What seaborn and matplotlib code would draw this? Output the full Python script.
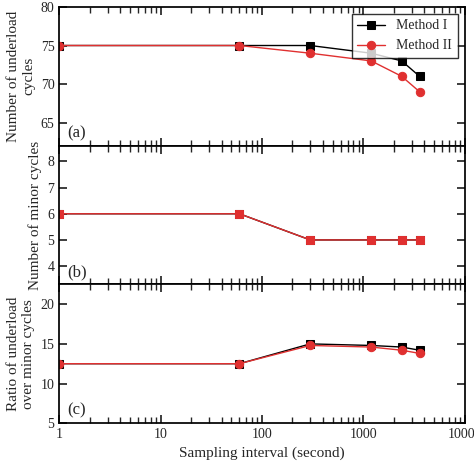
import matplotlib
matplotlib.use("Agg")
import matplotlib.pyplot as plt
import matplotlib.ticker as mticker
import seaborn as sns

sns.set_theme(style="ticks")
plt.rcParams['font.family'] = ['Liberation Serif', 'DejaVu Serif']

x = [1, 60, 300, 1200, 2400, 3600]
a_m1 = [75, 75, 75, 74, 73, 71]
a_m2 = [75, 75, 74, 73, 71, 69]
b_m1 = [6, 6, 5, 5, 5, 5]
b_m2 = [6, 6, 5, 5, 5, 5]
c_m1 = [12.5, 12.5, 15.0, 14.8, 14.6, 14.2]
c_m2 = [12.5, 12.5, 14.8, 14.6, 14.2, 13.8]

fig, axes = plt.subplots(3, 1, figsize=(4.74, 4.65), dpi=100, sharex=True)
fig.subplots_adjust(left=0.125, right=0.98, top=0.985, bottom=0.09, hspace=0)

black = "#000000"
red = "#e03030"
panels = [
    (a_m1, a_m2, "Number of underload\ncycles", (62, 80), [65, 70, 75, 80], "(a)", "o"),
    (b_m1, b_m2, "Number of minor cycles", (3.3, 8.6), [4, 5, 6, 7, 8], "(b)", "s"),
    (c_m1, c_m2, "Ratio of underload\nover minor cycles", (5, 22.5), [5, 10, 15, 20], "(c)", "o"),
]
for ax, (m1, m2, lab, ylim, yt, tag, mk2) in zip(axes, panels):
    sns.lineplot(x=x, y=m1, ax=ax, color=black, marker="s", markersize=6,
                 markeredgecolor=black, label="Method I", linewidth=1)
    sns.lineplot(x=x, y=m2, ax=ax, color=red, marker=mk2, markersize=6,
                 markeredgecolor=red, label="Method II", linewidth=1)
    ax.set_xscale("log")
    ax.set_xlim(1, 10000)
    ax.set_ylim(*ylim)
    ax.set_yticks(yt)
    ax.set_ylabel(lab, fontsize=11)
    ax.text(0.02, 0.06, tag, transform=ax.transAxes, fontsize=12)
    ax.tick_params(direction="in", which="both", top=True, right=True, labelsize=10)
    for s in ax.spines.values():
        s.set_color("black")
    if tag != "(a)":
        ax.get_legend().remove()
axes[2].xaxis.set_major_formatter(mticker.FuncFormatter(lambda v, p: f"{int(round(v))}"))
leg = axes[0].legend(loc="upper right", frameon=True, fontsize=10, fancybox=False)
leg.get_frame().set_edgecolor("black")
axes[2].set_xlabel("Sampling interval (second)", fontsize=11)
fig.savefig("out.png", dpi=100)
